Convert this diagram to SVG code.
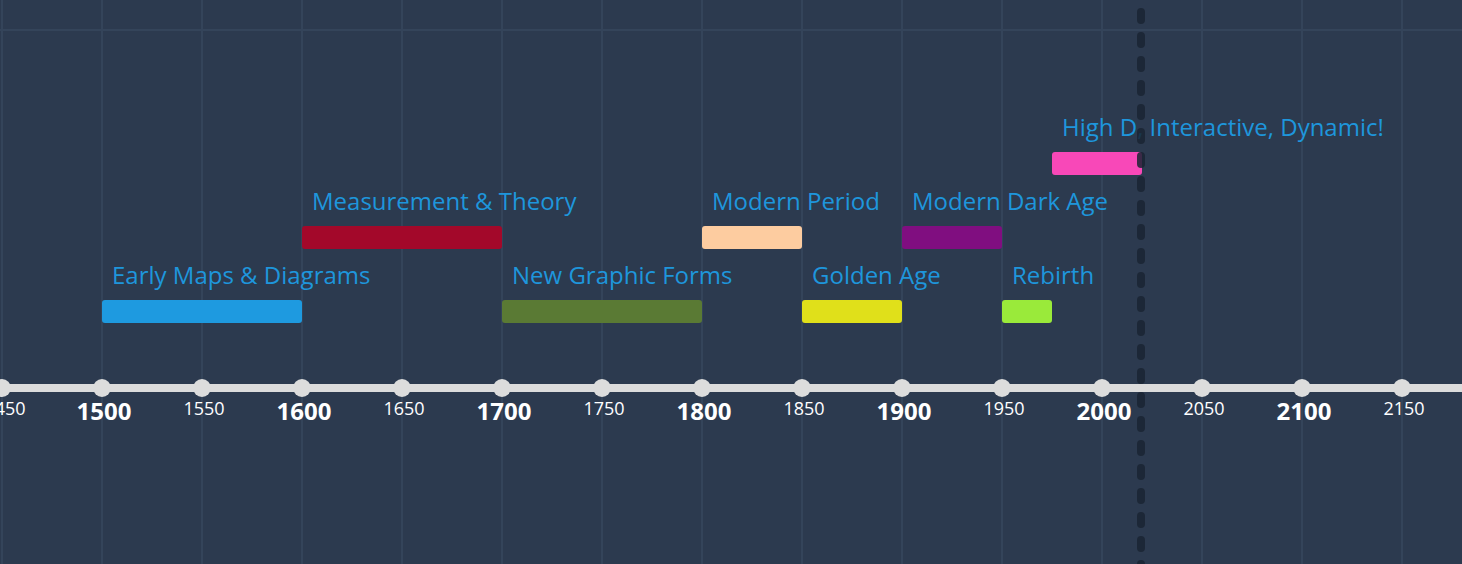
<svg xmlns="http://www.w3.org/2000/svg" width="1462" height="564" viewBox="0 0 1462 564">
<style>
.grid{stroke:#34445a;stroke-width:2}
.lbl{font-family:"Open Sans",sans-serif;font-size:24px;fill:#1e96dc}
.maj{font-family:"Open Sans",sans-serif;font-size:24px;font-weight:bold;fill:#ffffff;text-anchor:middle}
.min{font-family:"Open Sans",sans-serif;font-size:18px;fill:#ffffff;text-anchor:middle}
.dot{fill:#dcdcdc}
</style>
<rect width="1462" height="564" fill="#2c3a4f"/>
<g id="grid">
<line class="grid" x1="0" y1="30" x2="1462" y2="30"/>
<line class="grid" x1="2" y1="0" x2="2" y2="564"/>
<line class="grid" x1="102" y1="0" x2="102" y2="564"/>
<line class="grid" x1="202" y1="0" x2="202" y2="564"/>
<line class="grid" x1="302" y1="0" x2="302" y2="564"/>
<line class="grid" x1="402" y1="0" x2="402" y2="564"/>
<line class="grid" x1="502" y1="0" x2="502" y2="564"/>
<line class="grid" x1="602" y1="0" x2="602" y2="564"/>
<line class="grid" x1="702" y1="0" x2="702" y2="564"/>
<line class="grid" x1="802" y1="0" x2="802" y2="564"/>
<line class="grid" x1="902" y1="0" x2="902" y2="564"/>
<line class="grid" x1="1002" y1="0" x2="1002" y2="564"/>
<line class="grid" x1="1102" y1="0" x2="1102" y2="564"/>
<line class="grid" x1="1202" y1="0" x2="1202" y2="564"/>
<line class="grid" x1="1302" y1="0" x2="1302" y2="564"/>
<line class="grid" x1="1402" y1="0" x2="1402" y2="564"/>
</g>
<g id="axis">
<line x1="0" y1="388" x2="1462" y2="388" stroke="#dcdcdc" stroke-width="8"/>
<circle class="dot" cx="2" cy="388" r="9"/>
<circle class="dot" cx="102" cy="388" r="9"/>
<circle class="dot" cx="202" cy="388" r="9"/>
<circle class="dot" cx="302" cy="388" r="9"/>
<circle class="dot" cx="402" cy="388" r="9"/>
<circle class="dot" cx="502" cy="388" r="9"/>
<circle class="dot" cx="602" cy="388" r="9"/>
<circle class="dot" cx="702" cy="388" r="9"/>
<circle class="dot" cx="802" cy="388" r="9"/>
<circle class="dot" cx="902" cy="388" r="9"/>
<circle class="dot" cx="1002" cy="388" r="9"/>
<circle class="dot" cx="1102" cy="388" r="9"/>
<circle class="dot" cx="1202" cy="388" r="9"/>
<circle class="dot" cx="1302" cy="388" r="9"/>
<circle class="dot" cx="1402" cy="388" r="9"/>
<text class="min" x="5" y="415">1450</text>
<text class="maj" x="104" y="420">1500</text>
<text class="min" x="204" y="415">1550</text>
<text class="maj" x="304" y="420">1600</text>
<text class="min" x="404" y="415">1650</text>
<text class="maj" x="504" y="420">1700</text>
<text class="min" x="604" y="415">1750</text>
<text class="maj" x="704" y="420">1800</text>
<text class="min" x="804" y="415">1850</text>
<text class="maj" x="904" y="420">1900</text>
<text class="min" x="1004" y="415">1950</text>
<text class="maj" x="1104" y="420">2000</text>
<text class="min" x="1204" y="415">2050</text>
<text class="maj" x="1304" y="420">2100</text>
<text class="min" x="1404" y="415">2150</text>
</g>
<g id="early-maps">
<rect x="102" y="300" width="200" height="23" rx="3" fill="#1e9ae0"/>
<text class="lbl" x="112" y="284">Early Maps &amp; Diagrams</text>
</g>
<g id="measurement">
<rect x="302" y="226" width="200" height="23" rx="3" fill="#a3082a"/>
<text class="lbl" x="312" y="210">Measurement &amp; Theory</text>
</g>
<g id="new-graphic-forms">
<rect x="502" y="300" width="200" height="23" rx="3" fill="#5a7a34"/>
<text class="lbl" x="512" y="284">New Graphic Forms</text>
</g>
<g id="modern-period">
<rect x="702" y="226" width="100" height="23" rx="3" fill="#fdcca0"/>
<text class="lbl" x="712" y="210">Modern Period</text>
</g>
<g id="golden-age">
<rect x="802" y="300" width="100" height="23" rx="3" fill="#e0e01a"/>
<text class="lbl" x="812" y="284">Golden Age</text>
</g>
<g id="modern-dark-age">
<rect x="902" y="226" width="100" height="23" rx="3" fill="#800e80"/>
<text class="lbl" x="912" y="210">Modern Dark Age</text>
</g>
<g id="rebirth">
<rect x="1002" y="300" width="50" height="23" rx="3" fill="#9aea3a"/>
<text class="lbl" x="1012" y="284">Rebirth</text>
</g>
<g id="high-d">
<rect x="1052" y="152" width="90" height="23" rx="3" fill="#f848b8"/>
<text class="lbl" x="1062" y="136">High D, Interactive, Dynamic!</text>
</g>
<g id="connectors">
<line x1="1141" y1="12" x2="1141" y2="570" stroke="#1a2433" stroke-opacity="0.85" stroke-width="8" stroke-linecap="round" stroke-dasharray="8 16"/>
</g>
</svg>
